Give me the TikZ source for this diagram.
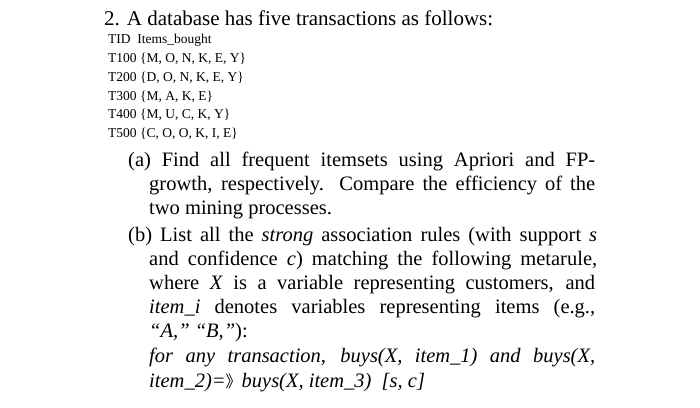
\documentclass[tikz,border=0pt]{standalone}
\usepackage{fontspec}
\setmainfont{Liberation Serif}
\newfontfamily\cjk{Noto Sans CJK SC}
\begin{document}
\begin{tikzpicture}[x=1pt,y=-1pt,
  big/.style={anchor=base west,inner sep=0pt,font=\fontsize{20.5}{21}\selectfont},
  title/.style={anchor=base west,inner sep=0pt,font=\fontsize{21}{22}\selectfont},
  small/.style={anchor=base west,inner sep=0pt,font=\fontsize{13.5}{14}\selectfont}]
\useasboundingbox[fill=white] (0,0) rectangle (700,407);
\node[title] (t) at (104,25) {2. A database has five transactions as follows:};
\node[small] (s0) at (108,43) {TID\ \ Items\_bought};
\node[small] (s1) at (108,62) {T100 \{M, O, N, K, E, Y\}};
\node[small] (s2) at (108,81) {T200 \{D, O, N, K, E, Y\}};
\node[small] (s3) at (108,100) {T300 \{M, A, K, E\}};
\node[small] (s4) at (108,118) {T400 \{M, U, C, K, Y\}};
\node[small] (s6) at (108,137) {T500 \{C, O, O, K, I, E\}};
\node[big] (a1) at (128,166) {\makebox[467pt][s]{(a) Find all frequent itemsets using Apriori and FP-}};
\node[big] (a2) at (149,190) {\makebox[446pt][s]{growth, respectively. Compare the efficiency of the}};
\node[big] (a3) at (149,214) {two mining processes.};
\node[big] (b1) at (128,241) {\makebox[469pt][s]{(b) List all the \textit{strong} association rules (with support \textit{s}}};
\node[big] (b2) at (149,265) {\makebox[448pt][s]{and confidence \textit{c}) matching the following metarule,}};
\node[big] (b3) at (149,289) {\makebox[446pt][s]{where \textit{X} is a variable representing customers, and}};
\node[big] (b4) at (149,313) {\makebox[446pt][s]{\textit{item\_i} denotes variables representing items (e.g.,}};
\node[big] (b5) at (149,337) {\textit{``A,'' ``B,''}):};
\node[big] (b6) at (149,362) {\makebox[446pt][s]{\textit{for any transaction, buys(X, item\_1) and buys(X,}}};
\node[big] (b7) at (149,387) {\textit{item\_2)=}{\cjk\fontsize{16}{16}\selectfont 》}\textit{buys(X, item\_3)\ \ [s, c]}};
\end{tikzpicture}
\end{document}
